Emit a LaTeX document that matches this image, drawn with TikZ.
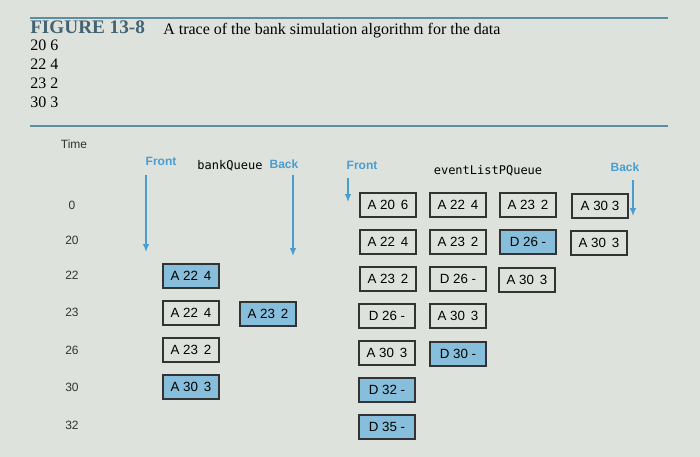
\documentclass[tikz,border=0pt]{standalone}
\usepackage{fontspec}
\setmainfont{Liberation Serif}
\setsansfont{Liberation Sans}
\setmonofont{DejaVu Sans Mono}
\begin{document}
\begin{tikzpicture}[x=0.75pt,y=-0.75pt,
  ev/.style={draw=black!80,line width=1pt,minimum width=42pt,minimum height=18pt,inner sep=1pt,font=\sffamily,fill=bgc},
  hi/.style={ev,fill=hib},
  lbl/.style={font=\sffamily\small,text=black!80},
  blu/.style={font=\sffamily\small\bfseries,text=arr},
  arrl/.style={draw=arr,line width=1pt,-{Latex[length=6pt,width=5pt]}}]
\usetikzlibrary{arrows.meta}
\definecolor{bgc}{HTML}{DEE2DD}
\definecolor{hib}{HTML}{86BEDB}
\definecolor{arr}{HTML}{4A9DD0}
\definecolor{rul}{HTML}{5E8DA3}
\fill[bgc] (0,0) rectangle (700,457);
\useasboundingbox (0,0) rectangle (700,457);
\draw[rul,line width=1.2pt] (30,18) -- (668,18);
\draw[rul,line width=1.2pt] (30,126) -- (668,126);
\node[anchor=west,font=\Large\bfseries,text=rul!70!black,inner sep=0] (fig) at (30,27) {FIGURE 13-8};
\node[anchor=west,font=\large,inner sep=0] (cap) at (163,31) {A trace of the bank simulation algorithm for the data};
\node[anchor=west,font=\large,inner sep=0] (d1) at (30,45) {20 6};
\node[anchor=west,font=\large,inner sep=0] (d2) at (30,64) {22 4};
\node[anchor=west,font=\large,inner sep=0] (d3) at (30,83) {23 2};
\node[anchor=west,font=\large,inner sep=0] (d4) at (30,102) {30 3};
\node[lbl] (time) at (74,144) {Time};
\foreach \t/\y in {0/205,20/240,22/275,23/312,26/350,30/387,32/425}
  \node[lbl] (t\t) at (72,\y) {\t};
\node[blu] (bf) at (161,161) {Front};
\node[font=\ttfamily\small] (bq) at (230,166) {bankQueue};
\node[blu] (bb) at (284,164) {Back};
\coordinate (bfs) at (146,175); \coordinate (bfe) at (146,252);
\coordinate (bbs) at (293,175); \coordinate (bbe) at (293,256);
\draw[arrl] (bfs) -- (bfe);
\draw[arrl] (bbs) -- (bbe);
\node[blu] (ef) at (362,165) {Front};
\node[font=\ttfamily\small] (eq) at (488,171) {eventListPQueue};
\node[blu] (eb) at (625,167) {Back};
\coordinate (efs) at (348,178); \coordinate (efe) at (348,202);
\coordinate (ebs) at (633,180); \coordinate (ebe) at (633,216);
\draw[arrl] (efs) -- (efe);
\draw[arrl] (ebs) -- (ebe);
% event list
\node[ev] (e01) at (388,205) {A 20\, 6};
\node[ev] (e02) at (458,205) {A 22\, 4};
\node[ev] (e03) at (528,205) {A 23\, 2};
\node[ev] (e04) at (600,206) {A 30 3};
\node[ev] (e11) at (388,242) {A 22\, 4};
\node[ev] (e12) at (458,242) {A 23\, 2};
\node[hi] (e13) at (528,242) {D 26 -};
\node[ev] (e14) at (599,243) {A 30\, 3};
\node[ev] (e21) at (388,279) {A 23\, 2};
\node[ev] (e22) at (458,279) {D 26 -};
\node[ev] (e23) at (527,280) {A 30\, 3};
\node[ev] (e31) at (387,316) {D 26 -};
\node[ev] (e32) at (458,316) {A 30\, 3};
\node[ev] (e41) at (387,353) {A 30\, 3};
\node[hi] (e42) at (458,354) {D 30 -};
\node[hi] (e51) at (387,390) {D 32 -};
\node[hi] (e61) at (387,427) {D 35 -};
% bank queue
\node[hi] (b21) at (191,276) {A 22\, 4};
\node[ev] (b31) at (191,313) {A 22\, 4};
\node[hi] (b32) at (268,314) {A 23\, 2};
\node[ev] (b41) at (191,350) {A 23\, 2};
\node[hi] (b51) at (191,387) {A 30\, 3};
\end{tikzpicture}
\end{document}
